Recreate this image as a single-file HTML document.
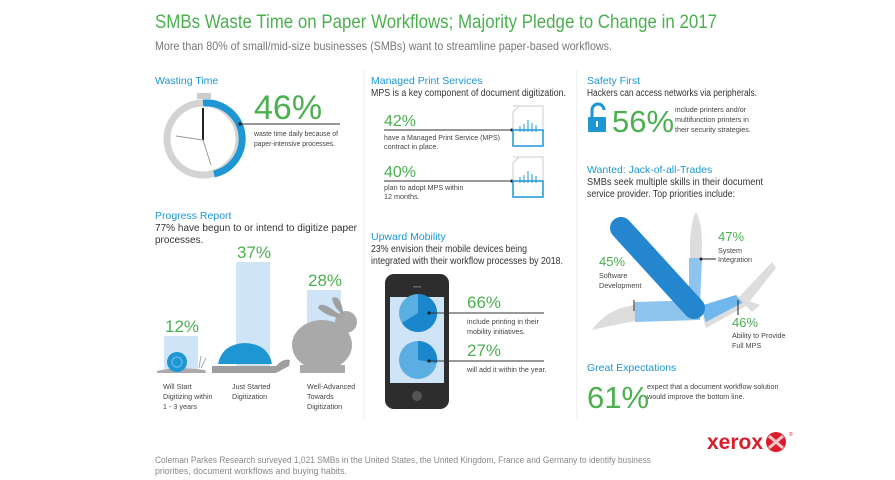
<!DOCTYPE html>
<html><head><meta charset="utf-8"><style>
html,body{margin:0;padding:0;background:#fff;}
svg{display:block;font-family:"Liberation Sans",sans-serif;}
.g{fill:#4caf50;}
.b{fill:#1e96d4;font-size:10.5px;}
.t{fill:#333;font-size:10px;}
.s{fill:#444;font-size:7.2px;}
</style></head><body>
<svg width="895" height="480" viewBox="0 0 895 480" xmlns="http://www.w3.org/2000/svg">
<rect width="895" height="480" fill="#fff"/>
<text x="155" y="28" class="g" font-size="19" textLength="562" lengthAdjust="spacingAndGlyphs">SMBs Waste Time on Paper Workflows; Majority Pledge to Change in 2017</text>
<text x="155" y="50" fill="#777" font-size="12" textLength="457" lengthAdjust="spacingAndGlyphs">More than 80% of small/mid-size businesses (SMBs) want to streamline paper-based workflows.</text>
<line x1="364" y1="70" x2="364" y2="420" stroke="#eee"/>
<line x1="577" y1="70" x2="577" y2="420" stroke="#eee"/>

<!-- Wasting time -->
<text x="155" y="84" class="b">Wasting Time</text>
<rect x="197" y="93" width="14" height="6" fill="#ccc"/>
<circle cx="203" cy="139" r="36" fill="none" stroke="#d3d3d3" stroke-width="7"/>
<path d="M203 103 A36 36 0 0 1 214 174" fill="none" stroke="#1e96d4" stroke-width="7"/>
<line x1="203" y1="108" x2="203" y2="140" stroke="#222" stroke-width="2"/>
<line x1="203" y1="140" x2="211" y2="165" stroke="#999" stroke-width="1"/>
<line x1="203" y1="140" x2="176" y2="136" stroke="#999" stroke-width="1"/>
<circle cx="240" cy="124" r="1.8" fill="#222"/>
<line x1="240" y1="124" x2="340" y2="124" stroke="#333" stroke-width="1"/>
<text x="254" y="119" class="g" font-size="34">46%</text>
<text x="254" y="136" class="s" textLength="84" lengthAdjust="spacingAndGlyphs">waste time daily because of</text>
<text x="254" y="146" class="s" textLength="81" lengthAdjust="spacingAndGlyphs">paper-intensive processes.</text>

<!-- Progress -->
<text x="155" y="219" class="b">Progress Report</text>
<text x="155" y="231" class="t" textLength="202" lengthAdjust="spacingAndGlyphs">77% have begun to or intend to digitize paper</text>
<text x="155" y="243" class="t">processes.</text>
<rect x="164" y="336" width="34" height="36" fill="#cfe4f6"/>
<rect x="236" y="262" width="34" height="110" fill="#cfe4f6"/>
<rect x="307" y="290" width="34" height="82" fill="#cfe4f6"/>
<text x="165" y="332" class="g" font-size="17">12%</text>
<text x="237" y="258" class="g" font-size="17">37%</text>
<text x="308" y="286" class="g" font-size="17">28%</text>
<!-- snail -->
<path d="M157 371 Q175 366 205 370 L206 373 L157 373Z" fill="#aaa"/>
<circle cx="177" cy="362" r="10" fill="#1e96d4"/>
<circle cx="177" cy="362" r="5" fill="none" stroke="#5bb5e6" stroke-width="1.5"/>
<line x1="199" y1="368" x2="201" y2="356" stroke="#aaa"/>
<line x1="201" y1="368" x2="206" y2="358" stroke="#aaa"/>
<!-- turtle -->
<path d="M218 364 Q222 344 245 343 Q268 344 272 364Z" fill="#1e96d4"/>
<path d="M212 366 L276 366 Q283 358 290 360 L289 366 L278 372 L275 373 L212 373 Z" fill="#9e9e9e"/>
<!-- rabbit -->
<ellipse cx="322" cy="345" rx="30" ry="25" fill="#a9a9a9"/>
<circle cx="346" cy="322" r="11" fill="#a9a9a9"/>
<path d="M336 312 Q320 300 318 308 Q328 318 344 318Z" fill="#a0a0a0"/>
<path d="M343 311 Q340 294 332 298 Q334 310 346 316Z" fill="#a0a0a0"/>
<rect x="300" y="365" width="45" height="8" fill="#a9a9a9"/>
<text x="163" y="389" class="s">Will Start</text>
<text x="163" y="399" class="s">Digitizing within</text>
<text x="163" y="409" class="s">1 - 3 years</text>
<text x="232" y="389" class="s">Just Started</text>
<text x="232" y="399" class="s">Digitization</text>
<text x="307" y="389" class="s">Well-Advanced</text>
<text x="307" y="399" class="s">Towards</text>
<text x="307" y="409" class="s">Digitization</text>

<!-- MPS -->
<text x="371" y="84" class="b">Managed Print Services</text>
<text x="371" y="96" class="t" textLength="195" lengthAdjust="spacingAndGlyphs">MPS is a key component of document digitization.</text>
<text x="384" y="126" class="g" font-size="16">42%</text>
<line x1="384" y1="130" x2="512" y2="130" stroke="#333"/>
<circle cx="512" cy="130" r="1.6" fill="#222"/>
<text x="384" y="140" class="s" textLength="116" lengthAdjust="spacingAndGlyphs">have a Managed Print Service (MPS)</text>
<text x="384" y="149" class="s">contract in place.</text>
<text x="384" y="177" class="g" font-size="16">40%</text>
<line x1="384" y1="181" x2="512" y2="181" stroke="#333"/>
<circle cx="512" cy="181" r="1.6" fill="#222"/>
<text x="384" y="190" class="s">plan to adopt MPS within</text>
<text x="384" y="199" class="s">12 months.</text>
<g fill="none" stroke="#ccc"><path d="M513 106 H543 V146 H513 V112 L519 106"/><path d="M513 157 H543 V197 H513 V163 L519 157"/></g>
<rect x="513" y="130" width="30" height="16" fill="none" stroke="#1e96d4" stroke-width="1.5"/>
<rect x="513" y="181" width="30" height="16" fill="none" stroke="#1e96d4" stroke-width="1.5"/>
<g stroke="#1e96d4"><line x1="520" y1="126" x2="520" y2="132"/><line x1="524" y1="124" x2="524" y2="132"/><line x1="528" y1="120" x2="528" y2="132"/><line x1="532" y1="123" x2="532" y2="132"/><line x1="536" y1="125" x2="536" y2="132"/>
<line x1="520" y1="177" x2="520" y2="183"/><line x1="524" y1="175" x2="524" y2="183"/><line x1="528" y1="171" x2="528" y2="183"/><line x1="532" y1="174" x2="532" y2="183"/><line x1="536" y1="176" x2="536" y2="183"/></g>

<!-- Mobility -->
<text x="371" y="240" class="b">Upward Mobility</text>
<text x="371" y="252" class="t" textLength="156" lengthAdjust="spacingAndGlyphs">23% envision their mobile devices being</text>
<text x="371" y="264" class="t" textLength="192" lengthAdjust="spacingAndGlyphs">integrated with their workflow processes by 2018.</text>
<rect x="385" y="274" width="64" height="135" rx="9" fill="#2d2d2d"/>
<rect x="390" y="297" width="54" height="86" fill="#cfe4f6"/>
<circle cx="417" cy="396" r="5" fill="#555"/>
<rect x="413" y="286" width="8" height="1.5" fill="#666"/>
<circle cx="418" cy="313" r="19" fill="#5aaee2"/>
<path d="M418 313 V294 A19 19 0 1 1 402 323 Z" fill="#1a86cc"/>
<circle cx="418" cy="360" r="19" fill="#5aaee2"/>
<path d="M418 360 V341 A19 19 0 0 1 437 363 Z" fill="#1a86cc"/>
<line x1="429" y1="313" x2="544" y2="313" stroke="#333"/>
<line x1="429" y1="361" x2="544" y2="361" stroke="#333"/>
<circle cx="429" cy="313" r="1.6" fill="#222"/><circle cx="429" cy="361" r="1.6" fill="#222"/>
<text x="467" y="308" class="g" font-size="17">66%</text>
<text x="467" y="324" class="s">include printing in their</text>
<text x="467" y="334" class="s">mobility initiatives.</text>
<text x="467" y="356" class="g" font-size="17">27%</text>
<text x="467" y="372" class="s">will add it within the year.</text>

<!-- Safety -->
<text x="587" y="84" class="b">Safety First</text>
<text x="587" y="96" class="t" textLength="170" lengthAdjust="spacingAndGlyphs">Hackers can access networks via peripherals.</text>
<path d="M592 117 V110 A6 6 0 0 1 604 110" fill="none" stroke="#1e96d4" stroke-width="3"/>
<rect x="588" y="117" width="18" height="15" rx="1" fill="#1e96d4"/>
<rect x="596" y="121" width="2" height="6" fill="#fff"/>
<text x="612" y="132" class="g" font-size="31">56%</text>
<text x="675" y="112" class="s">include printers and/or</text>
<text x="675" y="122" class="s">multifunction printers in</text>
<text x="675" y="132" class="s">their security strategies.</text>

<!-- Jack -->
<text x="587" y="173" class="b">Wanted: Jack-of-all-Trades</text>
<text x="587" y="185" class="t" textLength="176" lengthAdjust="spacingAndGlyphs">SMBs seek multiple skills in their document</text>
<text x="587" y="197" class="t" textLength="148" lengthAdjust="spacingAndGlyphs">service provider. Top priorities include:</text>
<!-- top blade -->
<path d="M690 300 L690 240 Q692 218 696 212 Q702 222 702 245 L700 300Z" fill="#ddd"/>
<path d="M689 258 L702 258 L700 305 L689 305Z" fill="#8ec5ef"/>
<!-- lower left blade -->
<path d="M592 330 Q606 310 630 306 L640 302 L640 320 L615 325 Z" fill="#ddd"/>
<path d="M635 302 L700 300 L700 320 L635 322Z" fill="#8ec5ef"/>
<!-- scissors -->
<path d="M703 318 L740 296 L772 262 L776 268 L746 306 L706 328Z" fill="#ddd"/>
<path d="M700 306 L736 295 L744 302 L706 322Z" fill="#6fb7ec"/>
<path d="M736 296 L760 305 L752 312Z" fill="#ddd"/>
<!-- main handle -->
<line x1="621" y1="228" x2="694" y2="308" stroke="#2386cf" stroke-width="22" stroke-linecap="round"/>
<text x="599" y="266" class="g" font-size="13">45%</text>
<text x="599" y="278" class="s">Software</text>
<text x="599" y="288" class="s">Development</text>
<text x="718" y="241" class="g" font-size="13">47%</text>
<text x="718" y="253" class="s">System</text>
<text x="718" y="262" class="s">Integration</text>
<text x="732" y="327" class="g" font-size="13">46%</text>
<text x="732" y="338" class="s">Ability to Provide</text>
<text x="732" y="348" class="s">Full MPS</text>
<line x1="701" y1="259" x2="716" y2="259" stroke="#222"/>
<circle cx="701" cy="259" r="1.5" fill="#222"/>
<line x1="634" y1="300" x2="634" y2="311" stroke="#222"/>
<line x1="738" y1="300" x2="738" y2="315" stroke="#222"/>

<text x="587" y="371" class="b">Great Expectations</text>
<text x="587" y="408" class="g" font-size="31">61%</text>
<text x="647" y="389" class="s">expect that a document workflow solution</text>
<text x="647" y="399" class="s">would improve the bottom line.</text>

<text x="707" y="449" fill="#d81e2c" font-size="21" font-weight="bold">xerox</text>
<circle cx="776" cy="442" r="10" fill="#d81e2c"/>
<path d="M769 436 L783 448 M783 436 L769 448" stroke="#f3c6c8" stroke-width="3"/>
<text x="789" y="436" fill="#d81e2c" font-size="5">®</text>

<text x="155" y="463" fill="#888" font-size="9" textLength="496" lengthAdjust="spacingAndGlyphs">Coleman Parkes Research surveyed 1,021 SMBs in the United States, the United Kingdom, France and Germany to identify business</text>
<text x="155" y="474" fill="#888" font-size="9" textLength="192" lengthAdjust="spacingAndGlyphs">priorities, document workflows and  buying habits.</text>
</svg>
</body></html>
